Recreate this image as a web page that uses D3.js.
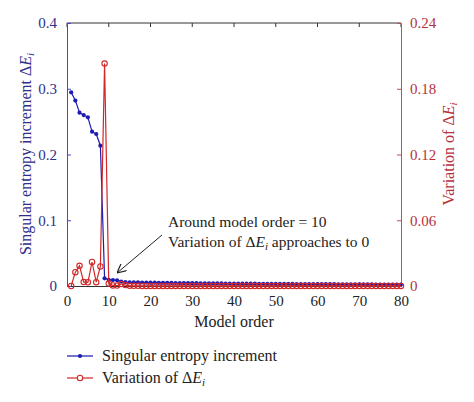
<!DOCTYPE html>
<html><head><meta charset="utf-8">
<script src="https://cdn.jsdelivr.net/npm/d3@7"></script>
<style>body{margin:0;background:#fff}svg{display:block}text{font-family:"Liberation Serif","Times New Roman",serif}</style>
</head><body><svg id="c" width="474" height="402"></svg>
<script>
const modelOrder = d3.range(1, 81);
const singularEntropy = [0.2946,0.2820,0.2636,0.2600,0.2566,0.2347,0.2312,0.2134,0.0117,0.0095,
0.0090,0.0086,0.0068,0.0060,0.0057,0.0055,0.0054,0.0053,0.0052,0.0051,
0.0050,0.0049,0.0048,0.0048,0.0047,0.0046,0.0045,0.0045,0.0044,0.0043,
0.0043,0.0042,0.0041,0.0041,0.0040,0.0040,0.0039,0.0038,0.0038,0.0037,
0.0037,0.0036,0.0036,0.0035,0.0035,0.0034,0.0034,0.0033,0.0033,0.0032,
0.0032,0.0031,0.0031,0.0031,0.0030,0.0030,0.0029,0.0029,0.0029,0.0028,
0.0028,0.0027,0.0027,0.0027,0.0026,0.0026,0.0026,0.0025,0.0025,0.0025,
0.0024,0.0024,0.0024,0.0023,0.0023,0.0023,0.0022,0.0022,0.0022,0.0021];
const variation = [0,0.0126,0.0184,0.0036,0.0034,0.0219,0.0035,0.0178,0.2030,0.0022,
0.0005,0.0004,0.0018,0.0008,0.0003,0.0002,0.0002,0.0001,0.0001,0.0001,
0.0001,0.0001,0.0001,0.0001,0.0001,0.0001,0.0001,0.0001,0.0001,0.0001,
0.0001,0.0001,0.0001,0.0001,0.0001,0.0001,0.0001,0.0001,0.0001,0.0001,
0.0001,0.0001,0.0001,0.0001,0.0001,0.0001,0.0001,0.0001,0.0001,0.0001,
0.0001,0.0001,0.0001,0.0001,0.0001,0.0001,0.0001,0.0001,0.0001,0.0001,
0.0001,0.0001,0.0001,0.0001,0.0001,0.0001,0.0001,0.0001,0.0001,0.0001,
0.0001,0.0001,0.0001,0.0001,0.0001,0.0001,0.0001,0.0001,0.0001,0.0001];
const xTicks = [0,10,20,30,40,50,60,70,80];
const yLeftTicks = [0,0.1,0.2,0.3,0.4];
const yRightTicks = [0,0.06,0.12,0.18,0.24];
const seriesNames = ["Singular entropy increment", "Variation of \u0394"];

const W=474,H=402, L=67, R=401, T=23, B=286;
const blue="#1c1cb4", blueTxt="#2e2e8c", blueAxis="#4646d2";
const red="#d22828", redTxt="#b8303c", redAxis="#c0505a";
const svg=d3.select("#c");
const x=d3.scaleLinear().domain([0,80]).range([L,R]);
const yl=d3.scaleLinear().domain([0,0.4]).range([B,T]);
const yr=d3.scaleLinear().domain([0,0.24]).range([B,T]);

// top border
svg.append("line").attr("x1",L).attr("x2",R).attr("y1",T).attr("y2",T).attr("stroke","#333").attr("stroke-width",1);
// bottom axis
const gx=svg.append("g").attr("transform",`translate(0,${B})`)
 .call(d3.axisBottom(x).tickValues(xTicks).tickSize(-4).tickPadding(9).tickFormat(d3.format("d")));
gx.select(".domain").attr("stroke","#333");
gx.selectAll(".tick line").attr("stroke","#333");
gx.selectAll("text").attr("font-size",15).attr("fill","#222");
// top ticks
svg.append("g").selectAll("line").data(xTicks).join("line")
 .attr("x1",d=>x(d)).attr("x2",d=>x(d)).attr("y1",T).attr("y2",T+4).attr("stroke","#333");
// left axis
const gl=svg.append("g").attr("transform",`translate(${L},0)`)
 .call(d3.axisLeft(yl).tickValues(yLeftTicks).tickSize(-4).tickPadding(10).tickFormat(d=>d===0?"0":d3.format(".1f")(d)));
gl.select(".domain").attr("stroke",blueAxis);
gl.selectAll(".tick line").attr("stroke",blueAxis);
gl.selectAll("text").attr("font-size",15).attr("fill",blueTxt);
// right axis
const gr=svg.append("g").attr("transform",`translate(${R},0)`)
 .call(d3.axisRight(yr).tickValues(yRightTicks).tickSize(-4).tickPadding(9).tickFormat(d=>d===0?"0":d3.format(".2f")(d)));
gr.select(".domain").attr("stroke",redAxis);
gr.selectAll(".tick line").attr("stroke",redAxis);
gr.selectAll("text").attr("font-size",15).attr("fill",redTxt);

// axis titles
const lt=svg.append("text").attr("transform",`translate(31,154) rotate(-90)`).attr("text-anchor","middle")
 .attr("font-size",16).attr("fill",blueTxt);
lt.append("tspan").text("Singular entropy increment \u0394");
lt.append("tspan").attr("font-style","italic").text("E");
lt.append("tspan").attr("font-style","italic").attr("font-size",11).attr("dy",3).text("i");
const rt=svg.append("text").attr("transform",`translate(454,154) rotate(-90)`).attr("text-anchor","middle")
 .attr("font-size",16).attr("fill",redTxt);
rt.append("tspan").text("Variation of \u0394");
rt.append("tspan").attr("font-style","italic").text("E");
rt.append("tspan").attr("font-style","italic").attr("font-size",11).attr("dy",3).text("i");
svg.append("text").attr("x",(L+R)/2).attr("y",327).attr("text-anchor","middle").attr("font-size",16).attr("fill","#222").text("Model order");

// series
const bd=modelOrder.map((o,i)=>[o,singularEntropy[i]]);
const rd=modelOrder.map((o,i)=>[o,variation[i]]);
svg.append("path").datum(bd).attr("d",d3.line().x(d=>x(d[0])).y(d=>yl(d[1]))).attr("fill","none").attr("stroke",blue).attr("stroke-width",1.2);
svg.append("g").selectAll("circle").data(bd).join("circle").attr("cx",d=>x(d[0])).attr("cy",d=>yl(d[1])).attr("r",2.1).attr("fill",blue);
svg.append("path").datum(rd).attr("d",d3.line().x(d=>x(d[0])).y(d=>yr(d[1]))).attr("fill","none").attr("stroke",red).attr("stroke-width",1.2);
svg.append("g").selectAll("circle").data(rd).join("circle").attr("cx",d=>x(d[0])).attr("cy",d=>yr(d[1])).attr("r",2.7).attr("fill","none").attr("stroke",red).attr("stroke-width",1.1);

// annotation
svg.append("defs").append("marker").attr("id","ah").attr("viewBox","0 0 10 10").attr("refX",10).attr("refY",5)
 .attr("markerWidth",9).attr("markerHeight",9).attr("orient","auto-start-reverse").attr("markerUnits","userSpaceOnUse")
 .append("path").attr("d","M0,0 L10,5 L0,10").attr("fill","none").attr("stroke","#222").attr("stroke-width",1.3);
svg.append("line").attr("x1",162).attr("y1",235).attr("x2",117).attr("y2",273).attr("stroke","#222").attr("stroke-width",1).attr("marker-end","url(#ah)");
svg.append("text").attr("x",168).attr("y",227).attr("font-size",15.5).attr("fill","#222").text("Around model order = 10");
const a2=svg.append("text").attr("x",168).attr("y",247).attr("font-size",15.5).attr("fill","#222");
a2.append("tspan").text("Variation of \u0394");
a2.append("tspan").attr("font-style","italic").text("E");
a2.append("tspan").attr("font-style","italic").attr("font-size",11).attr("dy",3).text("i");
a2.append("tspan").attr("dy",-3).text(" approaches to 0");

// legend
const lg=svg.append("g");
lg.append("line").attr("x1",67).attr("x2",93).attr("y1",356).attr("y2",356).attr("stroke",blue).attr("stroke-width",1.2);
lg.append("circle").attr("cx",80).attr("cy",356).attr("r",2.1).attr("fill",blue);
lg.append("text").attr("x",102).attr("y",361).attr("font-size",16).attr("fill","#222").text(seriesNames[0]);
lg.append("line").attr("x1",67).attr("x2",93).attr("y1",378).attr("y2",378).attr("stroke",red).attr("stroke-width",1.2);
lg.append("circle").attr("cx",80).attr("cy",378).attr("r",2.7).attr("fill","#fff").attr("stroke",red).attr("stroke-width",1.1);
const l2=lg.append("text").attr("x",102).attr("y",383).attr("font-size",16).attr("fill","#222");
l2.append("tspan").text(seriesNames[1]);
l2.append("tspan").attr("font-style","italic").text("E");
l2.append("tspan").attr("font-style","italic").attr("font-size",11).attr("dy",3).text("i");
</script></body></html>
